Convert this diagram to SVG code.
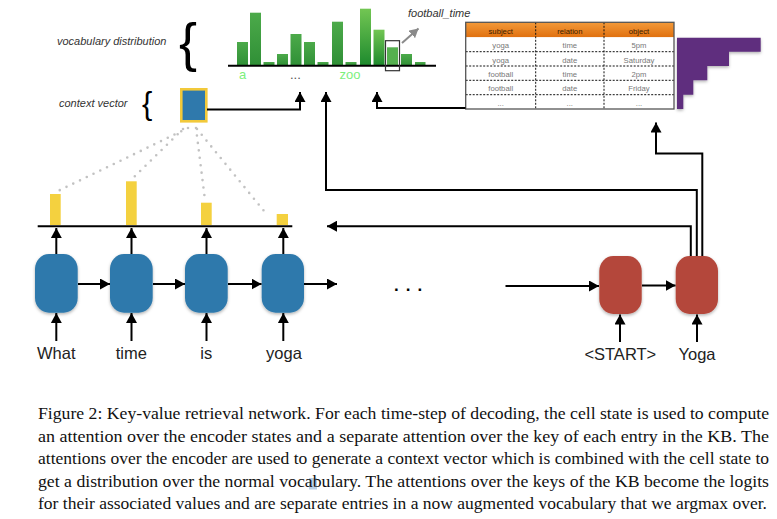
<svg xmlns="http://www.w3.org/2000/svg" width="777" height="519" viewBox="0 0 777 519">
<defs>
  <marker id="arr" markerUnits="userSpaceOnUse" markerWidth="11" markerHeight="11" refX="10" refY="5.5" orient="auto">
    <path d="M0,0 L10,5.5 L0,11 z" fill="#000"/>
  </marker>
  <marker id="garr" markerUnits="userSpaceOnUse" markerWidth="10" markerHeight="10" refX="9" refY="5" orient="auto">
    <path d="M0,0 L9,5 L0,10 z" fill="#8a8a8a"/>
  </marker>
  <linearGradient id="hdr" x1="0" y1="0" x2="0" y2="1">
    <stop offset="0" stop-color="#f39a3a"/>
    <stop offset="1" stop-color="#e0700f"/>
  </linearGradient>
  <linearGradient id="gbar" x1="0" y1="0" x2="0" y2="1">
    <stop offset="0" stop-color="#4caa4a"/>
    <stop offset="1" stop-color="#2f8f36"/>
  </linearGradient>
  <linearGradient id="gbar2" x1="0" y1="0" x2="0" y2="1">
    <stop offset="0" stop-color="#72c653"/>
    <stop offset="1" stop-color="#1c892d"/>
  </linearGradient>
  <filter id="sh" x="-20%" y="-20%" width="140%" height="140%">
    <feDropShadow dx="0" dy="1.5" stdDeviation="1.5" flood-color="#000" flood-opacity="0.3"/>
  </filter>
  <style>
    .lbl{font-family:"Liberation Sans",Arial,sans-serif;}
    .it{font-family:"Liberation Sans",Arial,sans-serif;font-style:italic;font-size:11px;fill:#333;}
    .word{font-family:"Liberation Sans",Arial,sans-serif;font-size:16.5px;fill:#222;text-anchor:middle;}
    .th{font-family:"Liberation Sans",Arial,sans-serif;font-size:7.7px;fill:#3a1c00;text-anchor:middle;}
    .td{font-family:"Liberation Sans",Arial,sans-serif;font-size:7.7px;fill:#777;text-anchor:middle;}
    .cap{font-family:"Liberation Serif","Times New Roman",serif;font-size:17.5px;fill:#111;}
    .ln{fill:none;stroke:#000;stroke-width:2;}
    .a{fill:none;stroke:#000;stroke-width:2;marker-end:url(#arr);}
    .dot{fill:none;stroke:#c2c2c2;stroke-width:2.6;stroke-dasharray:0 7.5;stroke-linecap:round;}
    .enc{fill:#2f79ac;filter:url(#sh);}
    .dec{fill:#b4463a;filter:url(#sh);}
    .bar{fill:url(#gbar);}
    .ybar{fill:#f4d13f;}
    .dash{stroke:#111;stroke-width:1;stroke-dasharray:2 1.5;fill:none;}
  </style>
</defs>
<rect width="777" height="519" fill="#fff"/>

<!-- vocabulary distribution -->
<g id="vocab-dist">
  <text class="it" x="57" y="45">vocabulary distribution</text>
  <text class="lbl" x="179" y="61" font-size="54" fill="#000">{</text>
  <rect class="bar" x="237" y="42" width="11" height="24"/>
  <rect class="bar" x="250" y="12.7" width="11" height="53.3"/>
  <rect class="bar" x="263.5" y="62" width="11" height="4"/>
  <rect class="bar" x="277" y="54" width="11" height="12"/>
  <rect class="bar" x="290.5" y="34" width="11" height="32"/>
  <rect class="bar" x="304" y="42" width="11" height="24"/>
  <rect class="bar" x="317.5" y="62" width="11" height="4"/>
  <rect class="bar" x="332" y="21.7" width="11" height="44.3"/>
  <rect class="bar" x="345.5" y="62" width="11" height="4"/>
  <rect x="360" y="8.7" width="11" height="57.3" fill="url(#gbar2)"/>
  <rect x="373.5" y="29.7" width="11" height="36.3" fill="url(#gbar2)"/>
  <rect x="387" y="47.3" width="11" height="18.7" fill="#55b04f"/>
  <rect class="bar" x="401" y="54" width="11" height="12"/>
  <rect class="bar" x="415" y="62" width="10.5" height="4"/>
  <line x1="228" y1="65.8" x2="436" y2="65.8" stroke="#000" stroke-width="2"/>
  <rect x="385.5" y="40.7" width="14" height="30" fill="none" stroke="#333" stroke-width="1.2"/>
  <line x1="402" y1="43" x2="418.5" y2="28.5" stroke="#8a8a8a" stroke-width="2" marker-end="url(#garr)"/>
  <text class="it" x="408" y="17">football_time</text>
  <text class="lbl" x="239" y="79" font-size="13" fill="#7cf07c">a</text>
  <text class="lbl" x="290" y="79" font-size="13" fill="#555">...</text>
  <text class="lbl" x="339.5" y="79" font-size="13" fill="#7cf07c">zoo</text>
</g>

<!-- context vector -->
<g id="context-vector">
  <text class="it" x="59" y="107">context vector</text>
  <text class="lbl" x="142" y="114" font-size="31" fill="#000">{</text>
  <rect x="181.3" y="89.3" width="25" height="32" fill="#2f79ac" stroke="#f2c93a" stroke-width="2.6"/>
</g>

<!-- knowledge base table -->
<g id="kb-table">
  <rect x="465.7" y="22.3" width="208.3" height="15" fill="url(#hdr)"/>
  <rect x="465.7" y="37.3" width="208.3" height="71.7" fill="#fff"/>
  <line class="dash" x1="465.7" y1="51.7" x2="674" y2="51.7"/>
  <line class="dash" x1="465.7" y1="66" x2="674" y2="66"/>
  <line class="dash" x1="465.7" y1="80.3" x2="674" y2="80.3"/>
  <line class="dash" x1="465.7" y1="94.7" x2="674" y2="94.7"/>
  <line class="dash" x1="535.7" y1="22.3" x2="535.7" y2="109"/>
  <line class="dash" x1="604" y1="22.3" x2="604" y2="109"/>
  <rect x="465.7" y="22.3" width="208.3" height="86.7" fill="none" stroke="#555" stroke-width="1.3"/>
  <text class="th" x="500.7" y="34.2">subject</text>
  <text class="th" x="569.8" y="34.2">relation</text>
  <text class="th" x="639" y="34.2">object</text>
  <text class="td" x="500.7" y="48.3">yoga</text>
  <text class="td" x="569.8" y="48.3">time</text>
  <text class="td" x="639" y="48.3">5pm</text>
  <text class="td" x="500.7" y="62.6">yoga</text>
  <text class="td" x="569.8" y="62.6">date</text>
  <text class="td" x="639" y="62.6">Saturday</text>
  <text class="td" x="500.7" y="76.9">football</text>
  <text class="td" x="569.8" y="76.9">time</text>
  <text class="td" x="639" y="76.9">2pm</text>
  <text class="td" x="500.7" y="91.2">football</text>
  <text class="td" x="569.8" y="91.2">date</text>
  <text class="td" x="639" y="91.2">Friday</text>
  <text class="td" x="500.7" y="105.5">...</text>
  <text class="td" x="569.8" y="105.5">...</text>
  <text class="td" x="639" y="105.5">...</text>
</g>

<!-- KB attention (purple staircase) -->
<g id="kb-attention">
  <polygon points="677,37.7 760.7,37.7 760.7,51.7 729,51.7 729,66 707.3,66 707.3,80.3 693.3,80.3 693.3,94.7 683.3,94.7 683.3,109 677,109" fill="#5e2f7e" filter="url(#sh)"/>
</g>

<!-- encoder attention -->
<g id="encoder-attention">
  <rect class="ybar" x="50" y="194" width="10.7" height="31"/>
  <rect class="ybar" x="126" y="181.3" width="10.7" height="43.7"/>
  <rect class="ybar" x="201" y="202.7" width="10.7" height="22.3"/>
  <rect class="ybar" x="276.7" y="214" width="11.3" height="11"/>
  <line x1="37.7" y1="226.2" x2="292.3" y2="226.2" stroke="#000" stroke-width="2"/>
  <path class="dot" d="M188,128 L58,191"/>
  <path class="dot" d="M183,129 L131,180"/>
  <path class="dot" d="M196,128 L205,200"/>
  <path class="dot" d="M197,129 L264,211"/>
</g>

<!-- encoder nodes -->
<g id="enc-what"><rect class="enc" x="35" y="254" width="42.7" height="58.7" rx="14" ry="15"/><text class="word" x="56.3" y="359">What</text></g>
<g id="enc-time"><rect class="enc" x="110" y="254" width="42.7" height="58.7" rx="14" ry="15"/><text class="word" x="131.3" y="359">time</text></g>
<g id="enc-is"><rect class="enc" x="185" y="254" width="42.7" height="58.7" rx="14" ry="15"/><text class="word" x="206.3" y="359">is</text></g>
<g id="enc-yoga"><rect class="enc" x="261.7" y="254" width="42.3" height="58.7" rx="14" ry="15"/><text class="word" x="284" y="359">yoga</text></g>

<g id="ellipsis"><text class="lbl" x="394" y="291" font-size="17" font-weight="bold" fill="#000" letter-spacing="7">...</text></g>

<!-- decoder nodes -->
<g id="dec-start"><rect class="dec" x="599.3" y="256" width="42.4" height="58" rx="14" ry="15"/><text class="word" x="620.3" y="360">&lt;START&gt;</text></g>
<g id="dec-yoga"><rect class="dec" x="675.7" y="256" width="42.3" height="58" rx="14" ry="15"/><text class="word" x="697" y="360">Yoga</text></g>

<!-- connectors -->
<g id="connectors">
  <line class="a" x1="56.3" y1="254" x2="56.3" y2="228"/>
  <line class="a" x1="131.5" y1="254" x2="131.5" y2="228"/>
  <line class="a" x1="206.5" y1="254" x2="206.5" y2="228"/>
  <line class="a" x1="283.3" y1="254" x2="283.3" y2="228"/>
  <line class="a" x1="78" y1="284" x2="110" y2="284"/>
  <line class="a" x1="153" y1="284" x2="185" y2="284"/>
  <line class="a" x1="228" y1="284" x2="261.5" y2="284"/>
  <line class="a" x1="304" y1="284" x2="337" y2="284"/>
  <line class="a" x1="56.3" y1="341" x2="56.3" y2="313"/>
  <line class="a" x1="131.5" y1="341" x2="131.5" y2="313"/>
  <line class="a" x1="206.5" y1="341" x2="206.5" y2="313"/>
  <line class="a" x1="283.3" y1="341" x2="283.3" y2="313"/>
  <line class="a" x1="505.5" y1="286" x2="599" y2="286"/>
  <line class="a" x1="642" y1="285.5" x2="675.5" y2="285.5"/>
  <line class="a" x1="620" y1="342" x2="620" y2="314.5"/>
  <line class="a" x1="697" y1="342" x2="697" y2="314.5"/>
  <polyline class="a" points="690.8,256 690.8,226.2 327,226.2"/>
  <polyline class="a" points="696.8,256 696.8,190 326,190 326,92"/>
  <polyline class="a" points="702.3,256 702.3,153.5 656,153.5 656,122.5"/>
  <polyline class="a" points="207,109.5 300,109.5 300,92"/>
  <polyline class="a" points="465.5,108 377,108 377,92"/>
</g>

<!-- caption -->
<g id="caption">
  <rect x="309" y="478" width="8" height="11.5" fill="#b9cfe6"/>
  <text class="cap" x="38" y="419" textLength="731" lengthAdjust="spacingAndGlyphs">Figure 2: Key-value retrieval network. For each time-step of decoding, the cell state is used to compute</text>
  <text class="cap" x="38" y="441.5" textLength="731" lengthAdjust="spacingAndGlyphs">an attention over the encoder states and a separate attention over the key of each entry in the KB. The</text>
  <text class="cap" x="38" y="464" textLength="731" lengthAdjust="spacingAndGlyphs">attentions over the encoder are used to generate a context vector which is combined with the cell state to</text>
  <text class="cap" x="38" y="486.5" textLength="731" lengthAdjust="spacingAndGlyphs">get a distribution over the normal vocabulary. The attentions over the keys of the KB become the logits</text>
  <text class="cap" x="38" y="509" textLength="729" lengthAdjust="spacingAndGlyphs">for their associated values and are separate entries in a now augmented vocabulary that we argmax over.</text>
</g>
</svg>
